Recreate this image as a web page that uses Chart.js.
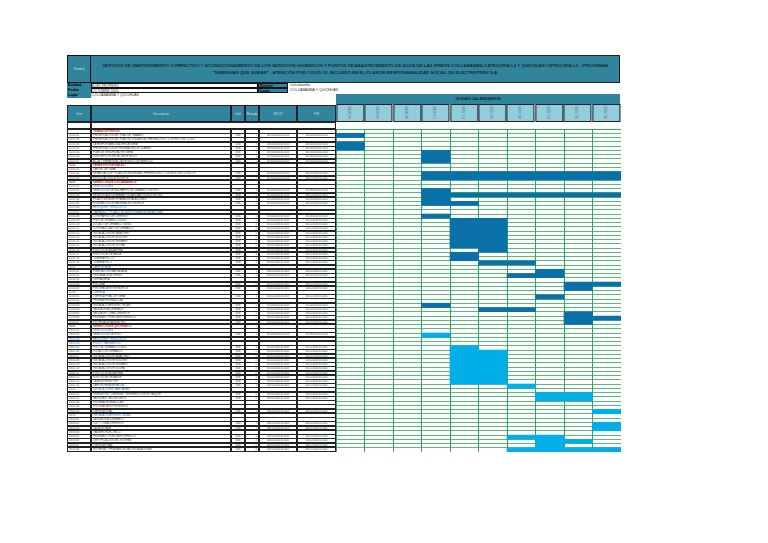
<!DOCTYPE html>
<html>
<head>
<meta charset="utf-8">
<script src="https://cdn.jsdelivr.net/npm/chart.js@4"></script>
<style>
  body { margin: 0; background: #fff; font-family: "Liberation Sans", Arial, sans-serif; }
  .abs { position: absolute; box-sizing: border-box; }
  .teal { background: #31849b; }
  .title { left: 67px; top: 55px; width: 553px; height: 28px; border: 1px solid #222; }
  .logo { left: 67px; top: 55px; width: 24px; height: 28px; border: 1px solid #111; color: #cde; font-size: 3px; display: flex; align-items: center; justify-content: center; }
  .ttext { left: 91px; top: 55px; width: 529px; height: 28px; font-size: 4.4px; font-weight: bold; color: #1a2a3a; text-align: center; display: flex; align-items: center; justify-content: center; line-height: 7px; padding: 0 4px; }
  .info { font-size: 3.6px; height: 5px; line-height: 5px; color: #333; }
  .lbl { background: #31849b; color: #000; font-weight: bold; padding-left: 1px; }
  .box { border: 1px solid #111; }
  .cell { position: absolute; box-sizing: border-box; border: 0.6px solid #222; font-size: 2.6px; line-height: 3.6px; padding: 0 1px; white-space: nowrap; overflow: hidden; color: #444; }
  .hcell { position: absolute; box-sizing: border-box; background: #31849b; border: 1px solid #222; color: #dde; font-size: 3px; display: flex; align-items: center; justify-content: center; }
  .red { color: #e02020; font-weight: bold; }
  .blue { color: #2070d0; }
</style>
</head>
<body>
<div class="abs teal title"></div>
<div class="abs logo">Entidad</div>
<div class="abs ttext">SERVICIO DE MANTENIMIENTO CORRECTIVO Y ACONDICIONAMIENTO DE LOS SERVICIOS HIGIÉNICOS Y PUNTOS DE ABASTECIMIENTO DE AGUA DE LAS IPRESS COLCABAMBA CATEGORÍA I-4 Y QUICHUAS CATEGORÍA I-3 - PROGRAMA "SINERGIAS QUE SUMAN" - ATENCIÓN POR COVID-19. INCLUIDO EN EL PLAN DE RESPONSABILIDAD SOCIAL DE ELECTROPERU S.A.</div>

<div class="abs info lbl" style="left:67px;top:83px;width:24px;">Entidad</div>
<div class="abs info box" style="left:91px;top:83px;width:167px;">ELECTROPERU</div>
<div class="abs info lbl" style="left:67px;top:88px;width:24px;">Fecha</div>
<div class="abs info box" style="left:91px;top:88px;width:167px;">OCTUBRE 2020</div>
<div class="abs info lbl" style="left:67px;top:93px;width:24px;">Lugar</div>
<div class="abs info" style="left:91px;top:93px;width:167px;">COLCABAMBA Y QUICHUAS</div>
<div class="abs info lbl box" style="left:258px;top:83px;width:30px;">Distrito</div>
<div class="abs info" style="left:290px;top:83px;width:60px;">Colcabamba</div>
<div class="abs info lbl box" style="left:258px;top:88px;width:30px;">Lugar</div>
<div class="abs info" style="left:290px;top:88px;width:80px;">COLCABAMBA Y QUICHUAS</div>

<div class="abs teal" style="left:336px;top:94px;width:284px;height:10px;color:#0d2230;font-size:4px;font-weight:bold;text-align:center;line-height:10px;">10 DIAS CALENDARIOS</div>
<div id="days" class="abs" style="left:336px;top:104px;width:284px;height:18px;display:flex;"></div>

<div id="tbl"></div>

<div class="abs" style="left:336px;top:129px;width:285px;height:323px;">
  <canvas id="gantt"></canvas>
</div>

<script>
// --- data ---
const dayLabels = ['28/10/2020', '29/10/2020', '30/10/2020', '31/10/2020', '01/11/2020', '02/11/2020', '03/11/2020', '04/11/2020', '05/11/2020', '06/11/2020'];

const itemCodes = ['', '01.01.01', '01.01.02', '01.01.03', '01.01.04', '01.01.05', '01.01.06', '01.01.07', '01.02', '01.02.01', '01.02.02', '01.02.03', '02.01', '02.01.01', '02.01.02', '02.01.03', '02.01.04', '02.01.05', '02.01.06', '02.01.07',
  '02.01.08', '02.01.09', '02.01.10', '02.01.11', '02.01.12', '02.01.13', '02.01.14', '02.01.15', '02.01.16', '02.01.17', '02.01.18', '02.01.19', '02.02', '02.02.01', '02.02.02', '02.02.03', '02.02.04', '02.02.05', '02.03', '02.03.01',
  '02.03.02', '02.03.03', '02.03.04', '02.03.05', '02.03.06', '02.03.07', '03.01', '03.01.01', '03.01.02', '03.01.03', '03.01.04', '03.01.05', '03.01.06', '03.01.07', '03.01.08', '03.01.09', '03.01.10', '03.01.11', '03.01.12', '03.01.13',
  '03.01.14', '03.02', '03.02.01', '03.02.02', '03.02.03', '03.02.04', '03.02.05', '03.03', '03.03.01', '03.03.02', '03.03.03', '03.03.04', '03.03.05', '03.03.06', '03.03.07', '03.03.08'];

const descriptions = ['TRABAJOS PREVIOS', 'PRESENTACION DEL PLAN DE TRABAJO', 'PRESENTACION DEL PLAN DE VIGILANCIA, PREVENCION Y CONTROL DEL COVID', 'LA RESPONSABILIDAD EN LA OBRA', 'PRESENTACION DE PRUEBAS MOLECULARES', 'PLAN DE SEGURIDAD EN OBRA', 'SUSCRIPCION DEL ACTA DE INICIO', 'ACTA Y FIRMA DE ACTA DE INICIO DE SERVICIO', 'OBRAS PROVISIONALES', 'CARTEL DE OBRA', 'SEÑALIZACION Y PLAN DE SEGURIDAD, PREVENCION Y CONTROL DEL COVID-19', 'MOVILIZACION DE EQUIPOS', 'OBRAS CIVILES COLCABAMBA I-4', 'DEMOLICIONES', 'DEMOLICION DE ENCHAPES DE CERAMICO EN PISO', 'DESMONTAJE DE APARATOS SANITARIOS EXISTENTES', 'PICADO DE MUROS PARA INSTALACIONES', 'ELIMINACION DE MATERIAL EXCEDENTE', 'REVOQUES Y ENLUCIDOS', 'TARRAJEO Y PICADO DE MUROS PARA INSTALACIONES',
  'CONTRAPISO DE CEMENTO', 'PISO DE CERAMICO 45X45', 'ZOCALO DE CERAMICO 30X60', 'CONTRAZOCALO DE CERAMICO', 'INSTALACION DE LAVATORIO', 'INSTALACION DE INODORO', 'INSTALACION DE URINARIO', 'INSTALACION DE DUCHA', 'PUNTOS DE AGUA FRIA', 'PUNTOS DE DESAGUE', 'TUBERIA PVC 1/2"', 'TUBERIA PVC 2"', 'CARPINTERIA', 'PUERTA CONTRAPLACADA', 'VENTANA DE ALUMINIO', 'CERRAJERIA', 'PINTURA', 'PINTURA LATEX EN MUROS', 'LIMPIEZA', 'LIMPIEZA FINAL DE OBRA',
  'PRUEBAS HIDRAULICAS', 'INSTALACIONES ELECTRICAS', 'SALIDA DE ALUMBRADO', 'SALIDA DE TOMACORRIENTE', 'PRUEBAS Y PUESTA EN SERVICIO', 'ENTREGA DE AMBIENTES', 'OBRAS CIVILES QUICHUAS I-3', 'DEMOLICIONES', 'DEMOLICION DE PISO', 'REVOQUES Y ENLUCIDOS', 'PISOS Y PAVIMENTOS', 'PISO DE CERAMICO 45X45', 'ZOCALO DE CERAMICO', 'INSTALACION DE LAVATORIO', 'INSTALACION DE INODORO', 'INSTALACION DE URINARIO', 'INSTALACION DE DUCHA', 'PUNTOS DE AGUA FRIA', 'PUNTOS DE DESAGUE', 'CAJA DE REGISTRO',
  'CARPINTERIA METALICA', 'INSTALACIONES SANITARIAS', 'SUMINISTRO, LIMPIEZA Y DESINFECCION DE TANQUE', 'VALVULAS Y ACCESORIOS', 'PRUEBAS HIDRAULICAS', 'PINTURA LATEX EN MUROS', 'LIMPIEZA FINAL', 'INSTALACIONES ELECTRICAS', 'SALIDA DE ALUMBRADO', 'LUZ Y TOMACORRIENTE', 'CAJA DE PASE', 'TABLERO ELECTRICO', 'PRUEBAS Y PUESTA EN SERVICIO', 'CERTIFICACION DEL SISTEMA', 'LIMPIEZA FINAL', 'ENTREGA Y PRUEBAS DE LAS INSTALACIONES'];

const redRows = [0, 8, 12, 46];
const blueRows = [13, 18, 19, 32, 38, 47, 49, 50, 61, 67];

// planned start / end, in days from day 1 (null = no bar)
const barStart = [null, 0, null, 0, 0, 3, 3, 3, null, null, 3, 3, null, null, 3, 3, 3, 3, null, null,
  3, 4, 4, 4, 4, 4, 4, 4, 5, 4, 4, 5, null, 7, 6, null, 8, 8, null, 7,
  null, 3, 5, 8, 8, 8, null, null, 3, null, null, 4, 4, 4, 4, 4, 4, 4, 4, 4,
  6, null, 7, 7, null, null, 9, null, null, 9, 9, null, 6, 7, 7, 6];
const barEnd = [null, 1, null, 1, 1, 4, 4, 4, null, null, 10, 10, null, null, 4, 10, 4, 5, null, null,
  4, 6, 6, 6, 6, 6, 6, 6, 6, 5, 5, 7, null, 8, 8, null, 10, 9, null, 8,
  null, 4, 7, 9, 10, 9, null, null, 4, null, null, 5, 6, 6, 6, 6, 6, 6, 6, 6,
  7, null, 9, 9, null, null, 10, null, null, 10, 10, null, 8, 9, 8, 10];

const phaseSplit = 46;

// --- header days ---
const daysEl = document.getElementById('days');
dayLabels.forEach(d => {
  const c = document.createElement('div');
  c.style.cssText = 'flex:1;background:#92cddc;border:1px solid #222;font-size:2.6px;color:#567;writing-mode:vertical-rl;transform:rotate(180deg);display:flex;align-items:center;justify-content:center;';
  c.textContent = d;
  daysEl.appendChild(c);
});

// --- left table (absolute cells so rows line up with the chart rows) ---
const tbl = document.getElementById('tbl');
const colX = [67, 91, 231, 245, 259, 297, 336];
const headers = ['Item', 'Descripción', 'Und.', 'Metrado', 'INICIO', 'FIN'];
headers.forEach((h, k) => {
  const d = document.createElement('div');
  d.className = 'hcell';
  d.style.cssText = `left:${colX[k]}px;top:105px;width:${colX[k + 1] - colX[k]}px;height:17px;`;
  d.textContent = h;
  tbl.appendChild(d);
});
[[67, 91], [91, 336]].forEach(([a, b]) => {
  const d = document.createElement('div');
  d.className = 'cell';
  d.style.cssText = `left:${a}px;top:122px;width:${b - a}px;height:7px;border-width:1px;`;
  tbl.appendChild(d);
});

const rowTop = 129, rowH = 322 / itemCodes.length;
const fmt = d => `${dayLabels[d]} al 2020`;
itemCodes.forEach((code, i) => {
  const cls = redRows.includes(i) ? 'red' : blueRows.includes(i) ? 'blue' : '';
  const hasBar = barStart[i] !== null;
  const cells = [code, descriptions[i], hasBar ? 'GLB' : '', hasBar ? String(barEnd[i] - barStart[i]) : '',
    hasBar ? fmt(barStart[i]) : '', hasBar ? fmt(barEnd[i] - 1) : ''];
  cells.forEach((t, k) => {
    const d = document.createElement('div');
    d.className = 'cell' + (cls && k < 2 ? ' ' + cls : '');
    d.style.cssText = `left:${colX[k]}px;top:${rowTop + i * rowH}px;width:${colX[k + 1] - colX[k]}px;height:${rowH + 0.6}px;line-height:${rowH}px;text-align:${k === 3 ? 'right' : k >= 2 ? 'center' : 'left'};`;
    d.textContent = t;
    tbl.appendChild(d);
  });
});

// --- gantt ---
const spans = itemCodes.map((_, i) => barStart[i] === null ? null : [barStart[i], barEnd[i]]);
const phase1 = spans.map((s, i) => i < phaseSplit ? s : null);
const phase2 = spans.map((s, i) => i >= phaseSplit ? s : null);

new Chart(document.getElementById('gantt'), {
  type: 'bar',
  data: {
    labels: itemCodes.map((c, i) => c || 'row' + i),
    datasets: [
      { label: 'Colcabamba', data: phase1, backgroundColor: '#0a70a8' },
      { label: 'Quichuas', data: phase2, backgroundColor: '#00aee8' }
    ]
  },
  options: {
    indexAxis: 'y',
    responsive: true,
    maintainAspectRatio: false,
    animation: false,
    layout: { padding: 0 },
    datasets: { bar: { barPercentage: 1, categoryPercentage: 1, grouped: false } },
    scales: {
      x: {
        type: 'linear', min: 0, max: 10, position: 'top',
        ticks: { display: false, stepSize: 1 },
        grid: { color: '#2fa85a', lineWidth: 1, drawTicks: false },
        border: { color: '#2fa85a' }
      },
      y: {
        ticks: { display: false },
        grid: { color: '#2fa85a', lineWidth: 0.8, offset: true, drawTicks: false },
        border: { color: '#2fa85a' }
      }
    },
    plugins: { legend: { display: false }, tooltip: { enabled: false } }
  }
});
</script>
</body>
</html>
